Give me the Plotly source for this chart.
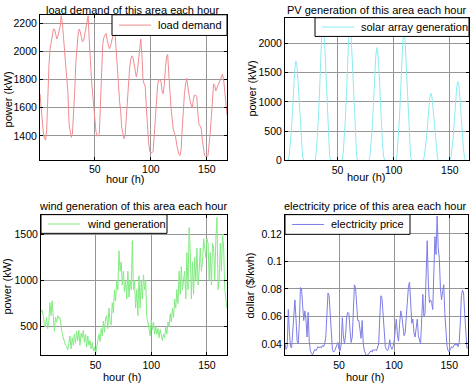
import plotly.graph_objects as go

hours = list(range(1, 169))
price_hours = list(range(1, 168))

load_demand = [
    1700, 1600, 1480, 1420, 1380, 1370, 1450, 1700, 1900, 2020, 2070, 2120, 2160, 2160, 2110, 2090,
    2110, 2150, 2180, 2255, 2200, 2100, 2000, 1920, 1860, 1700, 1480, 1420, 1390, 1420, 1550, 1720,
    1920, 2050, 2120, 2160, 2140, 2100, 2070, 2080, 2130, 2170, 2200, 2255, 2080, 1900, 1800, 1700,
    1600, 1500, 1430, 1400, 1400, 1420, 1600, 1850, 2050, 2100, 2120, 2130, 2080, 2040, 2020, 2040,
    2080, 2110, 2140, 2130, 1980, 1880, 1780, 1650, 1580, 1460, 1400, 1380, 1400, 1520, 1680, 1800,
    1880, 1940, 1970, 1960, 1900, 1840, 1820, 1860, 1950, 2040, 2090, 1980, 1800, 1770, 1750, 1600,
    1450, 1350, 1290, 1280, 1280, 1290, 1400, 1550, 1680, 1760, 1800, 1800, 1790, 1720, 1700, 1760,
    1880, 1960, 1980, 1880, 1720, 1600, 1500, 1450, 1420, 1400, 1340, 1290, 1270, 1260, 1300, 1450,
    1600, 1700, 1770, 1810, 1750, 1680, 1650, 1620, 1600, 1660, 1690, 1690, 1680, 1560, 1480, 1470,
    1450, 1370, 1300, 1260, 1250, 1250, 1260, 1320, 1420, 1530, 1680, 1770, 1760, 1720, 1740, 1760,
    1780, 1800, 1820, 1840, 1800, 1700, 1600, 1550,
]

pv_generation = [
    0, 0, 0, 0, 0, 0, 80, 260, 520, 850, 1230, 1560, 1700, 1610, 1320, 950, 580, 270, 60, 0, 0, 0, 0, 0,
    0, 0, 0, 0, 0, 0, 110, 360, 720, 1170, 1700, 2150, 2350, 2220, 1820, 1310, 800, 370, 80, 0, 0, 0, 0, 0,
    0, 0, 0, 0, 0, 0, 110, 350, 700, 1150, 1660, 2100, 2300, 2170, 1780, 1280, 780, 360, 80, 0, 0, 0, 0, 0,
    0, 0, 0, 0, 0, 0, 90, 290, 590, 960, 1390, 1770, 1930, 1820, 1500, 1070, 650, 300, 70, 0, 0, 0, 0, 0,
    0, 0, 0, 0, 0, 0, 100, 330, 670, 1100, 1590, 2010, 2200, 2080, 1700, 1220, 750, 350, 70, 0, 0, 0, 0, 0,
    0, 0, 0, 0, 0, 0, 50, 170, 350, 570, 830, 1060, 1150, 1090, 890, 640, 390, 180, 40, 0, 0, 0, 0, 0,
    0, 0, 0, 0, 0, 0, 60, 200, 410, 680, 980, 1240, 1350, 1280, 1050, 750, 460, 210, 50, 0, 0, 0, 0, 0,
]

wind_generation = [
    660, 680, 620, 520, 500, 600, 480, 560, 760, 620, 780, 550, 450, 600, 550, 620,
    590, 600, 500, 430, 380, 330, 300, 290, 250, 320, 400, 260, 380, 300, 420, 320,
    450, 350, 460, 300, 430, 380, 460, 330, 420, 280, 400, 300, 350, 260, 330, 240,
    280, 200, 300, 350, 420, 340, 480, 400, 560, 440, 600, 620, 480, 700, 560, 520,
    760, 650, 900, 780, 1000, 900, 1320, 1100, 1200, 950, 1100, 880, 1000, 800, 1100, 820,
    1000, 900, 1430, 900, 1000, 700, 900, 620, 1050, 700, 1000, 800, 1060, 900, 1000, 600,
    550, 480, 400, 570, 470, 550, 420, 500, 420, 480, 380, 470, 400, 350, 420, 380,
    500, 420, 550, 500, 640, 550, 700, 600, 800, 700, 900, 750, 1100, 850, 1150, 900,
    1000, 1100, 800, 1300, 900, 1570, 1300, 800, 1200, 850, 1250, 1000, 1350, 950, 1100, 1350,
    1100, 1200, 1450, 1300, 1250, 1450, 1400, 1000, 1300, 950, 1400, 1350, 1000, 1450, 1680, 900,
    1000, 1400, 1100, 1500, 1350, 900, 750, 700,
]

electricity_price = [
    0.040, 0.036, 0.038, 0.065, 0.048, 0.038, 0.037, 0.048, 0.064, 0.072, 0.058, 0.042, 0.040, 0.055,
    0.081, 0.080, 0.068, 0.057, 0.064, 0.058, 0.045, 0.063, 0.042, 0.035, 0.033, 0.032, 0.034, 0.036,
    0.035, 0.037, 0.038, 0.037, 0.038, 0.037, 0.039, 0.038, 0.040, 0.045, 0.065, 0.077, 0.075, 0.062,
    0.044, 0.036, 0.034, 0.035, 0.037, 0.040, 0.041, 0.036, 0.035, 0.040, 0.059, 0.045, 0.040, 0.047,
    0.060, 0.063, 0.062, 0.050, 0.041, 0.045, 0.070, 0.083, 0.081, 0.068, 0.057, 0.057, 0.050, 0.044,
    0.057, 0.040, 0.035, 0.033, 0.031, 0.032, 0.033, 0.034, 0.035, 0.034, 0.036, 0.035, 0.036, 0.035,
    0.037, 0.040, 0.060, 0.075, 0.073, 0.062, 0.046, 0.038, 0.036, 0.035, 0.037, 0.043, 0.038, 0.036,
    0.038, 0.042, 0.050, 0.058, 0.046, 0.042, 0.055, 0.064, 0.060, 0.050, 0.046, 0.048, 0.060, 0.075,
    0.082, 0.085, 0.065, 0.055, 0.058, 0.048, 0.045, 0.050, 0.058, 0.046, 0.042, 0.040, 0.058, 0.076,
    0.060, 0.062, 0.090, 0.115, 0.085, 0.070, 0.072, 0.070, 0.065, 0.095, 0.118, 0.105, 0.133, 0.110,
    0.102, 0.080, 0.072, 0.078, 0.083, 0.062, 0.045, 0.038, 0.035, 0.034, 0.036, 0.038, 0.037, 0.039,
    0.040, 0.039, 0.040, 0.038, 0.041, 0.055, 0.075, 0.079, 0.077, 0.062, 0.045, 0.037, 0.037,
]

titles = [
    "load demand of this area each hour",
    "PV generation of this area each hour",
    "wind generation of this area each hour",
    "electricity price of this area each hour",
]
series_names = ["load demand", "solar array generation", "wind generation", "electricity price"]
y_titles = ["power (kW)", "power (kW)", "power (kW)", "dollar ($/kwh)"]
x_title = "hour (h)"
x_ticks = [50, 100, 150]
load_ticks = [1400, 1600, 1800, 2000, 2200]
pv_ticks = [0, 500, 1000, 1500, 2000]
wind_ticks = [500, 1000, 1500]
price_ticks = [0.04, 0.06, 0.08, 0.1, 0.12]
price_tick_labels = ["0.04", "0.06", "0.08", "0.1", "0.12"]

W, H = 474, 389
FONT = "Liberation Sans, Arial, sans-serif"

# plot areas in pixels: (left, right, top, bottom)
areas = [
    (40, 227, 15, 162),
    (285, 469, 18, 163),
    (41, 227, 218, 361),
    (285, 468, 218, 361),
]
colors = ["rgb(240,140,145)", "rgb(140,235,240)", "rgb(130,235,130)", "rgb(125,125,230)"]
xranges = [[1, 168], [3.3, 167], [1, 168], [1, 167]]
yranges = [[1232, 2262], [0, 2440], [190, 1710], [0.0316, 0.134]]
ytickvals = [load_ticks, pv_ticks, wind_ticks, price_ticks]
yticktexts = [[str(v) for v in load_ticks], [str(v) for v in pv_ticks],
              [str(v) for v in wind_ticks], price_tick_labels]
xs = [hours, hours, hours, price_hours]
ys = [load_demand, pv_generation, wind_generation, electricity_price]

# legend boxes in pixels: (left, right, top, bottom)
legend_boxes = [
    (112, 227, 15, 36),
    (315, 469, 18, 37),
    (41, 167, 218, 237),
    (285, 410, 218, 238),
]

title_pos = [(132, 10), (377, 10), (133, 209), (375, 209)]
xtitle_pos = [(125, 182), (366, 180), (122, 383), (365, 383)]
ytitle_pos = [(8, 101), (252, 90), (7, 291), (250, 290)]


def px(x):
    return x / W


def py(y):
    return 1 - y / H


fig = go.Figure()
layout = dict(
    width=W, height=H, margin=dict(l=0, r=0, t=0, b=0),
    paper_bgcolor="white", plot_bgcolor="white", showlegend=False,
    font=dict(family=FONT, size=11, color="black"),
    annotations=[], shapes=[],
)

for i in range(4):
    n = "" if i == 0 else str(i + 1)
    l, r, t, b = areas[i]
    fig.add_trace(go.Scatter(
        x=xs[i], y=ys[i], mode="lines", name=series_names[i],
        line=dict(color=colors[i], width=1),
        xaxis="x" + n, yaxis="y" + n,
    ))
    axis_common = dict(
        showline=True, linecolor="black", linewidth=1, mirror="allticks",
        ticks="inside", ticklen=3, tickcolor="black",
        showgrid=True, gridcolor="rgb(150,150,150)", gridwidth=1,
        zeroline=False, tickfont=dict(family=FONT, size=10.5, color="black"),
    )
    layout["xaxis" + n] = dict(
        domain=[px(l), px(r)], anchor="y" + n, range=xranges[i],
        tickvals=x_ticks, **axis_common,
    )
    layout["yaxis" + n] = dict(
        domain=[py(b), py(t)], anchor="x" + n, range=yranges[i],
        tickvals=ytickvals[i], ticktext=yticktexts[i], **axis_common,
    )

    # legend box (as in the original: box with sample line and label)
    bl, br, bt, bb = legend_boxes[i]
    cy = (bt + bb) / 2
    layout["shapes"].append(dict(
        type="rect", xref="paper", yref="paper",
        x0=px(bl), x1=px(br), y0=py(bb), y1=py(bt),
        fillcolor="white", line=dict(color="black", width=1), layer="above",
    ))
    layout["shapes"].append(dict(
        type="line", xref="paper", yref="paper",
        x0=px(bl + 7), x1=px(bl + 39), y0=py(cy), y1=py(cy),
        line=dict(color=colors[i], width=1), layer="above",
    ))
    layout["annotations"].append(dict(
        text=series_names[i], x=px(bl + 44), y=py(cy), xref="paper", yref="paper",
        xanchor="left", yanchor="middle", showarrow=False,
        font=dict(family=FONT, size=11, color="black"),
    ))

    tx, ty = title_pos[i]
    layout["annotations"].append(dict(
        text=titles[i], x=px(tx), y=py(ty), xref="paper", yref="paper",
        xanchor="center", yanchor="middle", showarrow=False,
        font=dict(family=FONT, size=11, color="black"),
    ))
    ax_, ay_ = xtitle_pos[i]
    layout["annotations"].append(dict(
        text=x_title, x=px(ax_), y=py(ay_), xref="paper", yref="paper",
        xanchor="center", yanchor="middle", showarrow=False,
        font=dict(family=FONT, size=11, color="black"),
    ))
    yx, yy = ytitle_pos[i]
    layout["annotations"].append(dict(
        text=y_titles[i], x=px(yx), y=py(yy), xref="paper", yref="paper",
        xanchor="center", yanchor="middle", showarrow=False, textangle=-90,
        font=dict(family=FONT, size=11, color="black"),
    ))

fig.update_layout(**layout)
fig.write_html(
    "out.html",
    config={"displayModeBar": False},
    post_script="document.body.style.margin='0';document.body.style.padding='0';",
)
